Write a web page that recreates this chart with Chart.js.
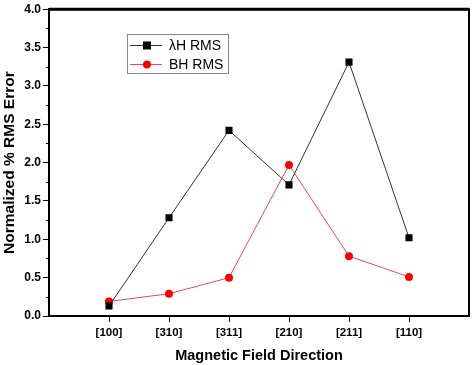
<!DOCTYPE html>
<html>
<head>
<meta charset="utf-8">
<script src="https://cdn.jsdelivr.net/npm/chart.js@4"></script>
<style>
  html, body { margin: 0; padding: 0; background: #fff; }
  #wrap { width: 474px; height: 365px; }
</style>
</head>
<body>
<div id="wrap"><canvas id="chart1" width="474" height="365"></canvas></div>
<script>
// Data
const directions = ['[100]', '[310]', '[311]', '[210]', '[211]', '[110]'];
const lambdaRms = [0.13, 1.28, 2.42, 1.71, 3.31, 1.02];
const bhRms = [0.19, 0.29, 0.50, 1.97, 0.78, 0.51];
const yTickValues = [0, 0.5, 1.0, 1.5, 2.0, 2.5, 3.0, 3.5, 4.0];

const fontFamily = '"Liberation Sans", Arial, sans-serif';

// Frame round the plot plus the inset legend
const framePlugin = {
  id: 'frame',
  afterDraw(chart) {
    const ctx = chart.ctx;
    const a = chart.chartArea;
    ctx.save();
    ctx.strokeStyle = '#000';
    ctx.lineWidth = 2;
    ctx.strokeRect(a.left, a.top, a.right - a.left, a.bottom - a.top);
    ctx.lineWidth = 3;
    ctx.beginPath();
    ctx.moveTo(a.left, a.top);
    ctx.lineTo(a.right, a.top);
    ctx.stroke();

    // minor ticks on y axis
    ctx.lineWidth = 1;
    for (let v = 0.25; v < 4; v += 0.5) {
      const y = Math.round(chart.scales.y.getPixelForValue(v)) + 0.5;
      ctx.beginPath();
      ctx.moveTo(a.left - 3, y);
      ctx.lineTo(a.left, y);
      ctx.stroke();
    }

    // legend box
    const bx = 127, by = 34, bw = 101, bh = 39;
    ctx.strokeStyle = '#888';
    ctx.lineWidth = 1;
    ctx.strokeRect(bx + 0.5, by + 0.5, bw, bh);
    ctx.font = '14px ' + fontFamily;
    ctx.textBaseline = 'middle';
    chart.data.datasets.forEach((ds, i) => {
      const y = by + 11 + i * 19;
      ctx.strokeStyle = ds.borderColor;
      ctx.beginPath();
      ctx.moveTo(bx + 3, y + 0.5);
      ctx.lineTo(bx + 35, y + 0.5);
      ctx.stroke();
      ctx.fillStyle = ds.pointBackgroundColor;
      if (ds.pointStyle === 'rect') {
        ctx.fillRect(bx + 16, y - 3.5, 8, 8);
      } else {
        ctx.beginPath();
        ctx.arc(bx + 20, y + 0.5, 4, 0, Math.PI * 2);
        ctx.fill();
      }
      ctx.fillStyle = '#000';
      ctx.fillText(ds.label, bx + 42, y + 1);
    });
    ctx.restore();
  }
};

const chart1 = new Chart(document.getElementById('chart1').getContext('2d'), {
  type: 'line',
  data: {
    datasets: [
      {
        label: '\u03bbH RMS',
        data: lambdaRms.map((v, i) => ({ x: i + 1, y: v })),
        borderColor: '#333',
        borderWidth: 1,
        pointStyle: 'rect',
        pointRadius: 5,
        pointBackgroundColor: '#000',
        pointBorderColor: '#000',
        pointBorderWidth: 0,
        tension: 0,
      },
      {
        label: 'BH RMS',
        data: bhRms.map((v, i) => ({ x: i + 1, y: v })),
        borderColor: '#e8495a',
        borderWidth: 1,
        pointStyle: 'circle',
        pointRadius: 4,
        pointBackgroundColor: '#ff0000',
        pointBorderColor: '#ff0000',
        pointBorderWidth: 0,
        tension: 0,
      },
    ],
  },
  options: {
    responsive: false,
    animation: false,
    layout: { padding: { top: 7, right: 3, left: 0, bottom: 0 } },
    plugins: {
      legend: { display: false },
      tooltip: { enabled: false },
    },
    scales: {
      x: {
        type: 'linear',
        min: 0,
        max: 7,
        afterBuildTicks: (scale) => {
          scale.ticks = directions.map((d, i) => ({ value: i + 1 }));
        },
        afterFit: (scale) => { scale.height = 49; },
        grid: { drawOnChartArea: false, tickLength: 6, tickColor: '#000' },
        border: { color: '#000', width: 2 },
        ticks: {
          color: '#000',
          padding: 4,
          maxRotation: 0,
          font: { family: fontFamily, size: 11.5, weight: 'bold' },
          callback: (v) => directions[v - 1] || '',
        },
        title: {
          display: true,
          text: 'Magnetic Field Direction',
          color: '#000',
          padding: { top: 1, bottom: 0 },
          font: { family: fontFamily, size: 14.5, weight: 'bold' },
        },
      },
      y: {
        min: 0,
        max: 4,
        afterBuildTicks: (scale) => {
          scale.ticks = yTickValues.map((v) => ({ value: v }));
        },
        afterFit: (scale) => { scale.width = 49; },
        grid: { drawOnChartArea: false, tickLength: 6, tickColor: '#000' },
        border: { color: '#000', width: 2 },
        ticks: {
          color: '#000',
          padding: 2,
          font: { family: fontFamily, size: 12, weight: 'bold' },
          callback: (v) => v.toFixed(1),
        },
        title: {
          display: true,
          text: 'Normalized % RMS Error',
          color: '#000',
          padding: { top: 0, bottom: 1 },
          font: { family: fontFamily, size: 15.5, weight: 'bold' },
        },
      },
    },
  },
  plugins: [framePlugin],
});
</script>
</body>
</html>
